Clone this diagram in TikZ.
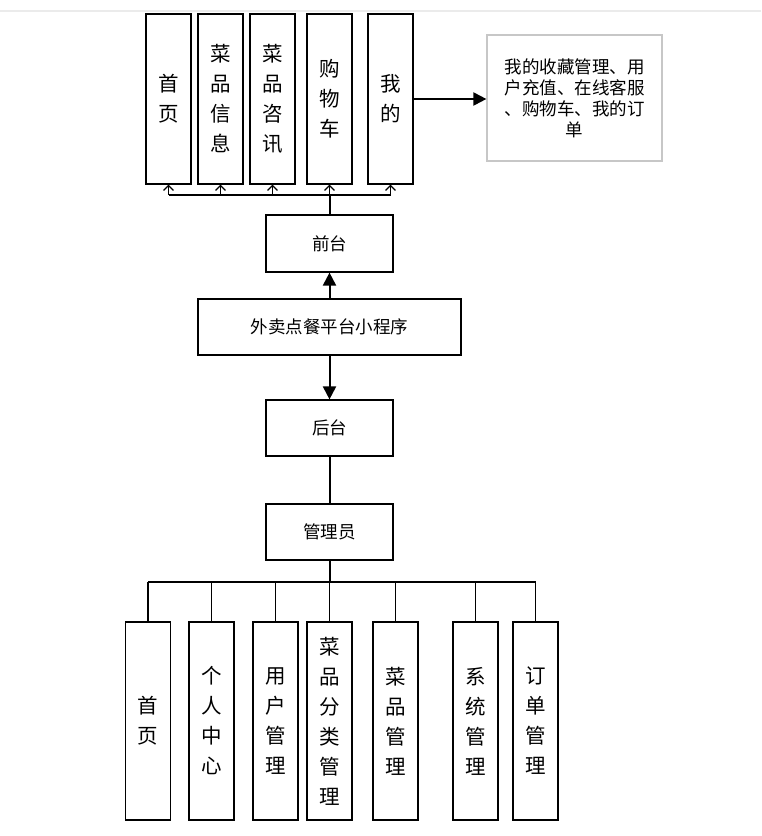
\documentclass[tikz,border=0pt]{standalone}
\usepackage{fontspec}
\newfontfamily\cjk{Noto Sans CJK SC}
\usetikzlibrary{arrows.meta}
\tikzset{
  box/.style={draw=black, line width=1.2pt, fill=white, inner sep=0pt, align=center, font=\cjk},
  tallbox/.style={box, minimum width=45, minimum height=170, font=\cjk\fontsize{20.5}{30}\selectfont},
  lowbox/.style={box, minimum width=45, minimum height=198, font=\cjk\fontsize{20.5}{30}\selectfont},
  midbox/.style={box, minimum width=127, minimum height=57, font=\cjk\fontsize{17.5}{20}\selectfont},
  notebox/.style={draw=black!22, line width=1.2pt, fill=white, inner sep=0pt, align=center,
    minimum width=175, minimum height=126, font=\cjk\fontsize{17.5}{21}\selectfont},
  bus/.style={line width=1.2pt},
  thickline/.style={line width=2pt},
  bigarrow/.style={line width=2pt, -{Triangle[length=13pt,width=13pt]}},
  smallarrow/.style={line width=1.2pt, -{Straight Barb[length=5pt,width=10pt]}}
}
\begin{document}
\begin{tikzpicture}[x=1pt,y=-1pt]
\useasboundingbox (0,0) rectangle (761,836);
\draw[black!8, line width=2pt] (0,11) -- (761,11);
% top boxes
\node[tallbox] (t1) at (168.5,99) {首\\页};
\node[tallbox] (t2) at (220.5,99) {菜\\品\\信\\息};
\node[tallbox] (t3) at (272.5,99) {菜\\品\\咨\\讯};
\node[tallbox] (t4) at (329.5,99) {购\\物\\车};
\node[tallbox] (t5) at (390.5,99) {我\\的};
\node[notebox] (note) at (574.5,98) {我的收藏管理、用\\户充值、在线客服\\、购物车、我的订\\单};
\draw[bigarrow] (t5.east |- 0,99) -- (note.west |- 0,99);
% middle
\node[midbox] (qt) at (329.5,243.5) {前台};
\node[midbox, minimum width=263, minimum height=56] (app) at (329.5,327) {外卖点餐平台小程序};
\node[midbox, minimum height=56] (ht) at (329.5,428) {后台};
\node[midbox, minimum height=56] (adm) at (329.5,532) {管理员};
\coordinate (tb) at (329.5,195);
\draw[bus] (tb -| t1) -- (tb -| t5);
\foreach \n in {t1,t2,t3,t4,t5} \draw[smallarrow] (tb -| \n) -- (\n.south);
\draw[thickline] (qt.north) -- (tb);
\draw[bigarrow] (app.north) -- (qt.south);
\draw[bigarrow] (app.south) -- (ht.north);
\draw[thickline] (ht.south) -- (adm.north);
% bottom boxes
\node[lowbox] (b1) at (148,721) {首\\页};
\node[lowbox] (b2) at (211.5,721) {个\\人\\中\\心};
\node[lowbox] (b3) at (275.5,721) {用\\户\\管\\理};
\node[lowbox] (b4) at (329.5,721) {菜\\品\\分\\类\\管\\理};
\node[lowbox] (b5) at (395.5,721) {菜\\品\\管\\理};
\node[lowbox] (b6) at (475.5,721) {系\\统\\管\\理};
\node[lowbox] (b7) at (535.5,721) {订\\单\\管\\理};
\coordinate (bb) at (329.5,582);
\draw[thickline] (adm.south) -- (bb);
\draw[bus] (bb -| b1) -- (bb -| b7);
\foreach \n in {b1,b2,b3,b4,b5,b6,b7} \draw[bus] (bb -| \n) -- (\n.north);
\end{tikzpicture}
\end{document}
